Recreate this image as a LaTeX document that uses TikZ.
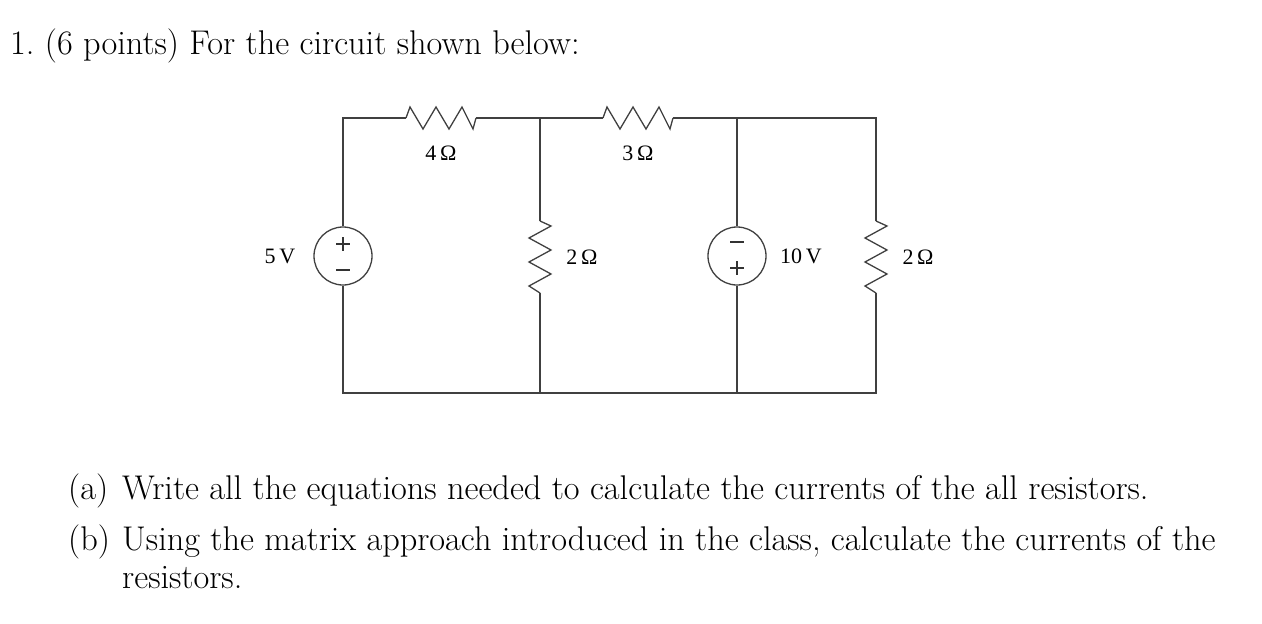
\documentclass[tikz,border=0pt]{standalone}
\usepackage{fontspec}
\newfontfamily\cfont{Liberation Serif}
\begin{document}
\begin{tikzpicture}[x=1pt,y=-1pt,
  wire/.style={line width=1.3pt,draw=black!75},
  sign/.style={line width=1.2pt,draw=black!80},
  src/.style={circle,draw=black!75,line width=1.3pt,minimum size=58pt,inner sep=0pt},
  lbl/.style={font=\cfont\fontsize{22}{24}\selectfont,inner sep=0pt},
  txt/.style={font=\fontsize{34.3}{40}\selectfont,inner sep=0pt,anchor=base west}]
\useasboundingbox (0,0) rectangle (1262,624);
% nodes / coordinates
\coordinate (tl) at (343,118); \coordinate (tm) at (540,118);
\coordinate (tr) at (737,118); \coordinate (trr) at (876,118);
\coordinate (bl) at (343,393); \coordinate (bm) at (540,393);
\coordinate (br) at (737,393); \coordinate (brr) at (876,393);
\coordinate (r1a) at (406,118); \coordinate (r1b) at (476,118);
\coordinate (r2a) at (603,118); \coordinate (r2b) at (673,118);
\coordinate (r3a) at (540,221); \coordinate (r3b) at (540,293);
\coordinate (r4a) at (876,221); \coordinate (r4b) at (876,293);
\node[src] (v1) at (343,256) {};
\node[src] (v2) at (737,256) {};
% wires
\draw[wire] (v1.north) -- (tl) -- (r1a);
\draw[wire] (r1b) -- (r2a);
\draw[wire] (r2b) -- (trr) -- (r4a);
\draw[wire] (tm) -- (r3a);
\draw[wire] (tr) -- (v2.north);
\draw[wire] (v1.south) -- (bl) -- (brr) -- (r4b);
\draw[wire] (r3b) -- (bm);
\draw[wire] (v2.south) -- (br);
% resistors
\foreach \a in {r1a,r2a}{
 \draw[wire,line join=miter] (\a) -- ++(4,-11) -- ++(13,22) -- ++(13,-22) -- ++(13,22) -- ++(13,-22) -- ++(11,22) -- ++(3,-11);}
\foreach \a in {r3a,r4a}{
 \draw[wire,line join=miter] (\a) -- ++(11,5) -- ++(-22,12) -- ++(22,12) -- ++(-22,12) -- ++(22,12) -- ++(-22,12) -- ++(11,7);}
% source signs
\draw[sign] (336,244) -- (350,244) (343,237) -- (343,251);
\draw[sign] (336,270) -- (350,270);
\draw[sign] (730,242) -- (744,242);
\draw[sign] (730,268) -- (744,268) (737,261) -- (737,275);
% labels
\node[lbl] (l1) at (441,153) {4\,Ω};
\node[lbl] (l2) at (638,153) {3\,Ω};
\node[lbl] (l3) at (582,257) {2\,Ω};
\node[lbl] (l4) at (918,257) {2\,Ω};
\node[lbl] (l5) at (280,256) {5\,V};
\node[lbl] (l6) at (801,256) {10\,V};
% text
\node[txt] (t0) at (10,54) {1.\ (6 points) For the circuit shown below:};
\node[txt] (ta) at (68,499) {\makebox[54pt][l]{(a)}Write all the equations needed to calculate the currents of the all resistors.};
\node[txt] (tb) at (68,550) {\makebox[54pt][l]{(b)}Using the matrix approach introduced in the class, calculate the currents of the};
\node[txt] (tc) at (122,588) {resistors.};
\end{tikzpicture}
\end{document}
